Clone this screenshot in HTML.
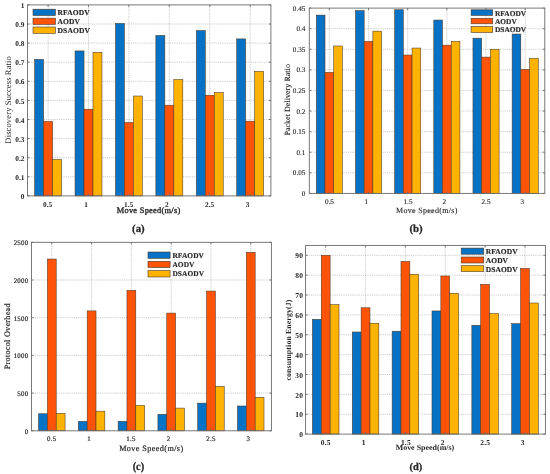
<!DOCTYPE html>
<html><head><meta charset="utf-8"><title>Charts</title>
<style>
html,body{margin:0;padding:0;background:#fff;}
body{width:550px;height:474px;overflow:hidden;}
svg{display:block;font-family:"Liberation Serif", serif;will-change:transform;filter:blur(0.4px);}
text{fill:#262626;text-rendering:geometricPrecision;}
</style></head>
<body>
<svg width="550" height="474" viewBox="0 0 550 474">
<rect x="0" y="0" width="550" height="474" fill="#fff"/>
<g id="pa">
<path d="M48.1 4.9V195.9M88.51 4.9V195.9M128.92 4.9V195.9M169.34 4.9V195.9M209.75 4.9V195.9M250.16 4.9V195.9M27.5 176.8H270.9M27.5 157.7H270.9M27.5 138.6H270.9M27.5 119.5H270.9M27.5 100.4H270.9M27.5 81.3H270.9M27.5 62.2H270.9M27.5 43.1H270.9M27.5 24H270.9" stroke="#a0a0a0" stroke-width="0.6" stroke-dasharray="0.9 0.95" fill="none"/>
<rect x="34.63" y="59.34" width="8.98" height="136.56" fill="#0672C6" stroke="#4a3826" stroke-width="0.55"/>
<rect x="75.04" y="50.93" width="8.98" height="144.97" fill="#0672C6" stroke="#4a3826" stroke-width="0.55"/>
<rect x="115.45" y="23.43" width="8.98" height="172.47" fill="#0672C6" stroke="#4a3826" stroke-width="0.55"/>
<rect x="155.87" y="35.46" width="8.98" height="160.44" fill="#0672C6" stroke="#4a3826" stroke-width="0.55"/>
<rect x="196.28" y="30.49" width="8.98" height="165.41" fill="#0672C6" stroke="#4a3826" stroke-width="0.55"/>
<rect x="236.69" y="38.9" width="8.98" height="157" fill="#0672C6" stroke="#4a3826" stroke-width="0.55"/>
<rect x="43.61" y="121.41" width="8.98" height="74.49" fill="#FF5408" stroke="#4a3826" stroke-width="0.55"/>
<rect x="84.02" y="109.19" width="8.98" height="86.71" fill="#FF5408" stroke="#4a3826" stroke-width="0.55"/>
<rect x="124.43" y="122.56" width="8.98" height="73.34" fill="#FF5408" stroke="#4a3826" stroke-width="0.55"/>
<rect x="164.85" y="105.18" width="8.98" height="90.72" fill="#FF5408" stroke="#4a3826" stroke-width="0.55"/>
<rect x="205.26" y="95.24" width="8.98" height="100.66" fill="#FF5408" stroke="#4a3826" stroke-width="0.55"/>
<rect x="245.67" y="121.22" width="8.98" height="74.68" fill="#FF5408" stroke="#4a3826" stroke-width="0.55"/>
<rect x="52.59" y="159.42" width="8.98" height="36.48" fill="#FFB300" stroke="#4a3826" stroke-width="0.55"/>
<rect x="93" y="52.27" width="8.98" height="143.63" fill="#FFB300" stroke="#4a3826" stroke-width="0.55"/>
<rect x="133.41" y="96.01" width="8.98" height="99.89" fill="#FFB300" stroke="#4a3826" stroke-width="0.55"/>
<rect x="173.83" y="79.58" width="8.98" height="116.32" fill="#FFB300" stroke="#4a3826" stroke-width="0.55"/>
<rect x="214.24" y="92.57" width="8.98" height="103.33" fill="#FFB300" stroke="#4a3826" stroke-width="0.55"/>
<rect x="254.65" y="71.37" width="8.98" height="124.53" fill="#FFB300" stroke="#4a3826" stroke-width="0.55"/>
<rect x="33" y="9.2" width="22.4" height="6.3" fill="#0672C6" stroke="#4a3826" stroke-width="0.6"/>
<text x="57.5" y="15.1" font-size="7.5" font-weight="bold" letter-spacing="0.15" stroke="#262626" stroke-width="0.15">RFAODV</text>
<rect x="33" y="18.2" width="22.4" height="6.2" fill="#FF5408" stroke="#4a3826" stroke-width="0.6"/>
<text x="57.5" y="24" font-size="7.5" font-weight="bold" letter-spacing="0.15" stroke="#262626" stroke-width="0.15">AODV</text>
<rect x="33" y="27" width="22.4" height="6.3" fill="#FFB300" stroke="#4a3826" stroke-width="0.6"/>
<text x="57.5" y="32.8" font-size="7.5" font-weight="bold" letter-spacing="0.15" stroke="#262626" stroke-width="0.15">DSAODV</text>
<rect x="27.5" y="4.9" width="243.4" height="191" fill="none" stroke="#6a6a6a" stroke-width="0.9"/>
<path d="M48.1 195.9v-2M48.1 4.9v2M88.51 195.9v-2M88.51 4.9v2M128.92 195.9v-2M128.92 4.9v2M169.34 195.9v-2M169.34 4.9v2M209.75 195.9v-2M209.75 4.9v2M250.16 195.9v-2M250.16 4.9v2M27.5 195.9h2M270.9 195.9h-2M27.5 176.8h2M270.9 176.8h-2M27.5 157.7h2M270.9 157.7h-2M27.5 138.6h2M270.9 138.6h-2M27.5 119.5h2M270.9 119.5h-2M27.5 100.4h2M270.9 100.4h-2M27.5 81.3h2M270.9 81.3h-2M27.5 62.2h2M270.9 62.2h-2M27.5 43.1h2M270.9 43.1h-2M27.5 24h2M270.9 24h-2M27.5 4.9h2M270.9 4.9h-2" stroke="#6a6a6a" stroke-width="0.9" fill="none"/>
<text x="24.5" y="199" text-anchor="end" font-size="7.4" font-weight="bold">0</text>
<text x="24.5" y="179.9" text-anchor="end" font-size="7.4" font-weight="bold">0.1</text>
<text x="24.5" y="160.8" text-anchor="end" font-size="7.4" font-weight="bold">0.2</text>
<text x="24.5" y="141.7" text-anchor="end" font-size="7.4" font-weight="bold">0.3</text>
<text x="24.5" y="122.6" text-anchor="end" font-size="7.4" font-weight="bold">0.4</text>
<text x="24.5" y="103.5" text-anchor="end" font-size="7.4" font-weight="bold">0.5</text>
<text x="24.5" y="84.4" text-anchor="end" font-size="7.4" font-weight="bold">0.6</text>
<text x="24.5" y="65.3" text-anchor="end" font-size="7.4" font-weight="bold">0.7</text>
<text x="24.5" y="46.2" text-anchor="end" font-size="7.4" font-weight="bold">0.8</text>
<text x="24.5" y="27.1" text-anchor="end" font-size="7.4" font-weight="bold">0.9</text>
<text x="24.5" y="8" text-anchor="end" font-size="7.4" font-weight="bold">1</text>
<text x="47.7" y="206.7" text-anchor="middle" font-size="7.4" font-weight="bold">0.5</text>
<text x="86.2" y="206.7" text-anchor="middle" font-size="7.4" font-weight="bold">1</text>
<text x="128.7" y="206.7" text-anchor="middle" font-size="7.4" font-weight="bold">1.5</text>
<text x="166.8" y="206.7" text-anchor="middle" font-size="7.4" font-weight="bold">2</text>
<text x="209.6" y="206.7" text-anchor="middle" font-size="7.4" font-weight="bold">2.5</text>
<text x="247.6" y="206.7" text-anchor="middle" font-size="7.4" font-weight="bold">3</text>
<text transform="translate(11.4 99.9) rotate(-90)" x="0" y="0" text-anchor="middle" font-size="8.5" font-weight="normal" textLength="87.5" lengthAdjust="spacing">Discovery Success Ratio</text>
<text x="148.5" y="212.5" text-anchor="middle" font-size="8.4" font-weight="normal" textLength="63.5" lengthAdjust="spacing" stroke="#262626" stroke-width="0.35">Move Speed(m/s)</text>
<text x="138.4" y="231.8" text-anchor="middle" font-size="10.8" font-weight="bold" fill="#1a1a1a" stroke="#1a1a1a" stroke-width="0.25">(a)</text>
</g>
<g id="pb">
<path d="M329.35 8.1V193.4M368.52 8.1V193.4M407.69 8.1V193.4M446.86 8.1V193.4M486.03 8.1V193.4M525.2 8.1V193.4M309.3 172.81H544.8M309.3 152.22H544.8M309.3 131.63H544.8M309.3 111.04H544.8M309.3 90.46H544.8M309.3 69.87H544.8M309.3 49.28H544.8M309.3 28.69H544.8" stroke="#a0a0a0" stroke-width="0.6" stroke-dasharray="0.9 0.95" fill="none"/>
<rect x="316.29" y="15.1" width="8.7" height="178.3" fill="#0672C6" stroke="#4a3826" stroke-width="0.55"/>
<rect x="355.46" y="10.57" width="8.7" height="182.83" fill="#0672C6" stroke="#4a3826" stroke-width="0.55"/>
<rect x="394.63" y="9.75" width="8.7" height="183.65" fill="#0672C6" stroke="#4a3826" stroke-width="0.55"/>
<rect x="433.8" y="20.04" width="8.7" height="173.36" fill="#0672C6" stroke="#4a3826" stroke-width="0.55"/>
<rect x="472.97" y="38.16" width="8.7" height="155.24" fill="#0672C6" stroke="#4a3826" stroke-width="0.55"/>
<rect x="512.14" y="34.04" width="8.7" height="159.36" fill="#0672C6" stroke="#4a3826" stroke-width="0.55"/>
<rect x="325" y="72.34" width="8.7" height="121.06" fill="#FF5408" stroke="#4a3826" stroke-width="0.55"/>
<rect x="364.17" y="41.45" width="8.7" height="151.95" fill="#FF5408" stroke="#4a3826" stroke-width="0.55"/>
<rect x="403.34" y="55.04" width="8.7" height="138.36" fill="#FF5408" stroke="#4a3826" stroke-width="0.55"/>
<rect x="442.51" y="45.16" width="8.7" height="148.24" fill="#FF5408" stroke="#4a3826" stroke-width="0.55"/>
<rect x="481.68" y="57.1" width="8.7" height="136.3" fill="#FF5408" stroke="#4a3826" stroke-width="0.55"/>
<rect x="520.85" y="69.45" width="8.7" height="123.95" fill="#FF5408" stroke="#4a3826" stroke-width="0.55"/>
<rect x="333.7" y="45.98" width="8.7" height="147.42" fill="#FFB300" stroke="#4a3826" stroke-width="0.55"/>
<rect x="372.87" y="31.16" width="8.7" height="162.24" fill="#FFB300" stroke="#4a3826" stroke-width="0.55"/>
<rect x="412.04" y="48.04" width="8.7" height="145.36" fill="#FFB300" stroke="#4a3826" stroke-width="0.55"/>
<rect x="451.21" y="41.45" width="8.7" height="151.95" fill="#FFB300" stroke="#4a3826" stroke-width="0.55"/>
<rect x="490.38" y="49.28" width="8.7" height="144.12" fill="#FFB300" stroke="#4a3826" stroke-width="0.55"/>
<rect x="529.55" y="58.34" width="8.7" height="135.06" fill="#FFB300" stroke="#4a3826" stroke-width="0.55"/>
<rect x="471.1" y="9.8" width="21.6" height="5.6" fill="#0672C6" stroke="#4a3826" stroke-width="0.6"/>
<text x="495" y="15.9" font-size="7.4" font-weight="bold" letter-spacing="0" stroke="#262626" stroke-width="0.15">RFAODV</text>
<rect x="471.1" y="18.4" width="21.6" height="5.4" fill="#FF5408" stroke="#4a3826" stroke-width="0.6"/>
<text x="495" y="23.7" font-size="7.4" font-weight="bold" letter-spacing="0" stroke="#262626" stroke-width="0.15">AODV</text>
<rect x="471.1" y="26.6" width="21.6" height="5.8" fill="#FFB300" stroke="#4a3826" stroke-width="0.6"/>
<text x="495" y="31.9" font-size="7.4" font-weight="bold" letter-spacing="0" stroke="#262626" stroke-width="0.15">DSAODV</text>
<rect x="309.3" y="8.1" width="235.5" height="185.3" fill="none" stroke="#6a6a6a" stroke-width="0.9"/>
<path d="M329.35 193.4v-2M329.35 8.1v2M368.52 193.4v-2M368.52 8.1v2M407.69 193.4v-2M407.69 8.1v2M446.86 193.4v-2M446.86 8.1v2M486.03 193.4v-2M486.03 8.1v2M525.2 193.4v-2M525.2 8.1v2M309.3 193.4h2M544.8 193.4h-2M309.3 172.81h2M544.8 172.81h-2M309.3 152.22h2M544.8 152.22h-2M309.3 131.63h2M544.8 131.63h-2M309.3 111.04h2M544.8 111.04h-2M309.3 90.46h2M544.8 90.46h-2M309.3 69.87h2M544.8 69.87h-2M309.3 49.28h2M544.8 49.28h-2M309.3 28.69h2M544.8 28.69h-2M309.3 8.1h2M544.8 8.1h-2" stroke="#6a6a6a" stroke-width="0.9" fill="none"/>
<text x="305.4" y="195.93" text-anchor="end" font-size="7.2" font-weight="normal" stroke="#262626" stroke-width="0.12">0</text>
<text x="305.4" y="175.34" text-anchor="end" font-size="7.2" font-weight="normal" stroke="#262626" stroke-width="0.12">0.05</text>
<text x="305.4" y="154.75" text-anchor="end" font-size="7.2" font-weight="normal" stroke="#262626" stroke-width="0.12">0.1</text>
<text x="305.4" y="134.16" text-anchor="end" font-size="7.2" font-weight="normal" stroke="#262626" stroke-width="0.12">0.15</text>
<text x="305.4" y="113.57" text-anchor="end" font-size="7.2" font-weight="normal" stroke="#262626" stroke-width="0.12">0.2</text>
<text x="305.4" y="92.99" text-anchor="end" font-size="7.2" font-weight="normal" stroke="#262626" stroke-width="0.12">0.25</text>
<text x="305.4" y="72.4" text-anchor="end" font-size="7.2" font-weight="normal" stroke="#262626" stroke-width="0.12">0.3</text>
<text x="305.4" y="51.81" text-anchor="end" font-size="7.2" font-weight="normal" stroke="#262626" stroke-width="0.12">0.35</text>
<text x="305.4" y="31.22" text-anchor="end" font-size="7.2" font-weight="normal" stroke="#262626" stroke-width="0.12">0.4</text>
<text x="305.4" y="10.63" text-anchor="end" font-size="7.2" font-weight="normal" stroke="#262626" stroke-width="0.12">0.45</text>
<text x="329.4" y="203.9" text-anchor="middle" font-size="7.2" font-weight="normal" stroke="#262626" stroke-width="0.12">0.5</text>
<text x="366.25" y="203.9" text-anchor="middle" font-size="7.2" font-weight="normal" stroke="#262626" stroke-width="0.12">1</text>
<text x="408" y="203.9" text-anchor="middle" font-size="7.2" font-weight="normal" stroke="#262626" stroke-width="0.12">1.5</text>
<text x="444.4" y="203.9" text-anchor="middle" font-size="7.2" font-weight="normal" stroke="#262626" stroke-width="0.12">2</text>
<text x="486" y="203.9" text-anchor="middle" font-size="7.2" font-weight="normal" stroke="#262626" stroke-width="0.12">2.5</text>
<text x="522.4" y="203.9" text-anchor="middle" font-size="7.2" font-weight="normal" stroke="#262626" stroke-width="0.12">3</text>
<text transform="translate(290.4 99.85) rotate(-90)" x="0" y="0" text-anchor="middle" font-size="8.0" font-weight="normal" textLength="71.5" lengthAdjust="spacing" stroke="#262626" stroke-width="0.12">Packet Delivery Ratio</text>
<text x="426.7" y="213.1" text-anchor="middle" font-size="8.0" font-weight="normal" textLength="61.5" lengthAdjust="spacing" stroke="#262626" stroke-width="0.12">Move Speed(m/s)</text>
<text x="416.1" y="231.6" text-anchor="middle" font-size="10.8" font-weight="bold" fill="#1a1a1a" stroke="#1a1a1a" stroke-width="0.25">(b)</text>
</g>
<g id="pc">
<path d="M51.8 242.3V430.8M91.59 242.3V430.8M131.38 242.3V430.8M171.17 242.3V430.8M210.96 242.3V430.8M250.75 242.3V430.8M31.5 393.1H271.4M31.5 355.4H271.4M31.5 317.7H271.4M31.5 280H271.4" stroke="#a0a0a0" stroke-width="0.6" stroke-dasharray="0.9 0.95" fill="none"/>
<rect x="38.54" y="413.76" width="8.84" height="17.04" fill="#0672C6" stroke="#4a3826" stroke-width="0.55"/>
<rect x="78.33" y="421.3" width="8.84" height="9.5" fill="#0672C6" stroke="#4a3826" stroke-width="0.55"/>
<rect x="118.12" y="421.3" width="8.84" height="9.5" fill="#0672C6" stroke="#4a3826" stroke-width="0.55"/>
<rect x="157.91" y="414.29" width="8.84" height="16.51" fill="#0672C6" stroke="#4a3826" stroke-width="0.55"/>
<rect x="197.7" y="403.13" width="8.84" height="27.67" fill="#0672C6" stroke="#4a3826" stroke-width="0.55"/>
<rect x="237.49" y="405.99" width="8.84" height="24.81" fill="#0672C6" stroke="#4a3826" stroke-width="0.55"/>
<rect x="47.38" y="259.04" width="8.84" height="171.76" fill="#FF5408" stroke="#4a3826" stroke-width="0.55"/>
<rect x="87.17" y="310.91" width="8.84" height="119.89" fill="#FF5408" stroke="#4a3826" stroke-width="0.55"/>
<rect x="126.96" y="290.41" width="8.84" height="140.39" fill="#FF5408" stroke="#4a3826" stroke-width="0.55"/>
<rect x="166.75" y="313.1" width="8.84" height="117.7" fill="#FF5408" stroke="#4a3826" stroke-width="0.55"/>
<rect x="206.54" y="291.08" width="8.84" height="139.72" fill="#FF5408" stroke="#4a3826" stroke-width="0.55"/>
<rect x="246.33" y="252.33" width="8.84" height="178.47" fill="#FF5408" stroke="#4a3826" stroke-width="0.55"/>
<rect x="56.22" y="413.38" width="8.84" height="17.42" fill="#FFB300" stroke="#4a3826" stroke-width="0.55"/>
<rect x="96.01" y="411.2" width="8.84" height="19.6" fill="#FFB300" stroke="#4a3826" stroke-width="0.55"/>
<rect x="135.8" y="405.39" width="8.84" height="25.41" fill="#FFB300" stroke="#4a3826" stroke-width="0.55"/>
<rect x="175.59" y="408.1" width="8.84" height="22.7" fill="#FFB300" stroke="#4a3826" stroke-width="0.55"/>
<rect x="215.38" y="386.31" width="8.84" height="44.49" fill="#FFB300" stroke="#4a3826" stroke-width="0.55"/>
<rect x="255.17" y="397.32" width="8.84" height="33.48" fill="#FFB300" stroke="#4a3826" stroke-width="0.55"/>
<rect x="146.5" y="250.3" width="59.5" height="28.7" fill="#fff"/>
<rect x="148" y="252" width="22.1" height="6.3" fill="#0672C6" stroke="#4a3826" stroke-width="0.6"/>
<text x="172.4" y="257.8" font-size="7.4" font-weight="bold" letter-spacing="0.1" stroke="#262626" stroke-width="0.15">RFAODV</text>
<rect x="148" y="261.3" width="22.1" height="6.2" fill="#FF5408" stroke="#4a3826" stroke-width="0.6"/>
<text x="172.4" y="267.1" font-size="7.4" font-weight="bold" letter-spacing="0.1" stroke="#262626" stroke-width="0.15">AODV</text>
<rect x="148" y="270.6" width="22.1" height="6.4" fill="#FFB300" stroke="#4a3826" stroke-width="0.6"/>
<text x="172.4" y="276.2" font-size="7.4" font-weight="bold" letter-spacing="0.1" stroke="#262626" stroke-width="0.15">DSAODV</text>
<rect x="31.5" y="242.3" width="239.9" height="188.5" fill="none" stroke="#6a6a6a" stroke-width="0.9"/>
<path d="M51.8 430.8v-2M51.8 242.3v2M91.59 430.8v-2M91.59 242.3v2M131.38 430.8v-2M131.38 242.3v2M171.17 430.8v-2M171.17 242.3v2M210.96 430.8v-2M210.96 242.3v2M250.75 430.8v-2M250.75 242.3v2M31.5 430.8h2M271.4 430.8h-2M31.5 393.1h2M271.4 393.1h-2M31.5 355.4h2M271.4 355.4h-2M31.5 317.7h2M271.4 317.7h-2M31.5 280h2M271.4 280h-2M31.5 242.3h2M271.4 242.3h-2" stroke="#6a6a6a" stroke-width="0.9" fill="none"/>
<text x="28.45" y="433.73" text-anchor="end" font-size="6.9" font-weight="normal" stroke="#262626" stroke-width="0.2" letter-spacing="0.25">0</text>
<text x="28.45" y="396.03" text-anchor="end" font-size="6.9" font-weight="normal" stroke="#262626" stroke-width="0.2" letter-spacing="0.25">500</text>
<text x="28.45" y="358.33" text-anchor="end" font-size="6.9" font-weight="normal" stroke="#262626" stroke-width="0.2" letter-spacing="0.25">1000</text>
<text x="28.45" y="320.63" text-anchor="end" font-size="6.9" font-weight="normal" stroke="#262626" stroke-width="0.2" letter-spacing="0.25">1500</text>
<text x="28.45" y="282.93" text-anchor="end" font-size="6.9" font-weight="normal" stroke="#262626" stroke-width="0.2" letter-spacing="0.25">2000</text>
<text x="28.45" y="245.23" text-anchor="end" font-size="6.9" font-weight="normal" stroke="#262626" stroke-width="0.2" letter-spacing="0.25">2500</text>
<text x="51.73" y="441.1" text-anchor="middle" font-size="6.9" font-weight="normal" stroke="#262626" stroke-width="0.2" letter-spacing="0.25">0.5</text>
<text x="89.12" y="441.1" text-anchor="middle" font-size="6.9" font-weight="normal" stroke="#262626" stroke-width="0.2" letter-spacing="0.25">1</text>
<text x="131.03" y="441.1" text-anchor="middle" font-size="6.9" font-weight="normal" stroke="#262626" stroke-width="0.2" letter-spacing="0.25">1.5</text>
<text x="168.62" y="441.1" text-anchor="middle" font-size="6.9" font-weight="normal" stroke="#262626" stroke-width="0.2" letter-spacing="0.25">2</text>
<text x="210.93" y="441.1" text-anchor="middle" font-size="6.9" font-weight="normal" stroke="#262626" stroke-width="0.2" letter-spacing="0.25">2.5</text>
<text x="248.32" y="441.1" text-anchor="middle" font-size="6.9" font-weight="normal" stroke="#262626" stroke-width="0.2" letter-spacing="0.25">3</text>
<text transform="translate(9.9 336.3) rotate(-90)" x="0" y="0" text-anchor="middle" font-size="8.2" font-weight="normal" textLength="65.8" lengthAdjust="spacing" stroke="#262626" stroke-width="0.2">Protocol Overhead</text>
<text x="151.15" y="451" text-anchor="middle" font-size="8.2" font-weight="normal" textLength="64" lengthAdjust="spacing" stroke="#262626" stroke-width="0.2">Move Speed(m/s)</text>
<text x="138.45" y="470.3" text-anchor="middle" font-size="11.3" font-weight="bold" fill="#1a1a1a" stroke="#1a1a1a" stroke-width="0.25" textLength="11.6" lengthAdjust="spacingAndGlyphs">(c)</text>
</g>
<g id="pd">
<path d="M325.7 245.4V434.1M365.56 245.4V434.1M405.42 245.4V434.1M445.28 245.4V434.1M485.14 245.4V434.1M525 245.4V434.1M305.6 414.24H545.4M305.6 394.37H545.4M305.6 374.51H545.4M305.6 354.65H545.4M305.6 334.78H545.4M305.6 314.92H545.4M305.6 295.06H545.4M305.6 275.19H545.4M305.6 255.33H545.4" stroke="#a0a0a0" stroke-width="0.6" stroke-dasharray="0.9 0.95" fill="none"/>
<rect x="312.41" y="319.29" width="8.86" height="114.81" fill="#0672C6" stroke="#4a3826" stroke-width="0.55"/>
<rect x="352.27" y="332" width="8.86" height="102.1" fill="#0672C6" stroke="#4a3826" stroke-width="0.55"/>
<rect x="392.13" y="331.21" width="8.86" height="102.89" fill="#0672C6" stroke="#4a3826" stroke-width="0.55"/>
<rect x="431.99" y="310.95" width="8.86" height="123.15" fill="#0672C6" stroke="#4a3826" stroke-width="0.55"/>
<rect x="471.85" y="325.25" width="8.86" height="108.85" fill="#0672C6" stroke="#4a3826" stroke-width="0.55"/>
<rect x="511.71" y="323.66" width="8.86" height="110.44" fill="#0672C6" stroke="#4a3826" stroke-width="0.55"/>
<rect x="321.27" y="255.33" width="8.86" height="178.77" fill="#FF5408" stroke="#4a3826" stroke-width="0.55"/>
<rect x="361.13" y="307.77" width="8.86" height="126.33" fill="#FF5408" stroke="#4a3826" stroke-width="0.55"/>
<rect x="400.99" y="261.49" width="8.86" height="172.61" fill="#FF5408" stroke="#4a3826" stroke-width="0.55"/>
<rect x="440.85" y="275.99" width="8.86" height="158.11" fill="#FF5408" stroke="#4a3826" stroke-width="0.55"/>
<rect x="480.71" y="284.33" width="8.86" height="149.77" fill="#FF5408" stroke="#4a3826" stroke-width="0.55"/>
<rect x="520.57" y="268.44" width="8.86" height="165.66" fill="#FF5408" stroke="#4a3826" stroke-width="0.55"/>
<rect x="330.13" y="304.59" width="8.86" height="129.51" fill="#FFB300" stroke="#4a3826" stroke-width="0.55"/>
<rect x="369.99" y="323.26" width="8.86" height="110.84" fill="#FFB300" stroke="#4a3826" stroke-width="0.55"/>
<rect x="409.85" y="274.4" width="8.86" height="159.7" fill="#FFB300" stroke="#4a3826" stroke-width="0.55"/>
<rect x="449.71" y="293.27" width="8.86" height="140.83" fill="#FFB300" stroke="#4a3826" stroke-width="0.55"/>
<rect x="489.57" y="313.53" width="8.86" height="120.57" fill="#FFB300" stroke="#4a3826" stroke-width="0.55"/>
<rect x="529.43" y="303" width="8.86" height="131.1" fill="#FFB300" stroke="#4a3826" stroke-width="0.55"/>
<rect x="461.2" y="248.1" width="22.5" height="6.1" fill="#0672C6" stroke="#4a3826" stroke-width="0.6"/>
<text x="485.8" y="253.85" font-size="7.5" font-weight="bold" letter-spacing="0.05" stroke="#262626" stroke-width="0.15">RFAODV</text>
<rect x="461.2" y="257" width="22.5" height="6" fill="#FF5408" stroke="#4a3826" stroke-width="0.6"/>
<text x="485.8" y="262.65" font-size="7.5" font-weight="bold" letter-spacing="0.05" stroke="#262626" stroke-width="0.15">AODV</text>
<rect x="461.2" y="265.7" width="22.5" height="5.9" fill="#FFB300" stroke="#4a3826" stroke-width="0.6"/>
<text x="485.8" y="271.55" font-size="7.5" font-weight="bold" letter-spacing="0.05" stroke="#262626" stroke-width="0.15">DSAODV</text>
<rect x="305.6" y="245.4" width="239.8" height="188.7" fill="none" stroke="#6a6a6a" stroke-width="0.9"/>
<path d="M325.7 434.1v-2M325.7 245.4v2M365.56 434.1v-2M365.56 245.4v2M405.42 434.1v-2M405.42 245.4v2M445.28 434.1v-2M445.28 245.4v2M485.14 434.1v-2M485.14 245.4v2M525 434.1v-2M525 245.4v2M305.6 434.1h2M545.4 434.1h-2M305.6 414.24h2M545.4 414.24h-2M305.6 394.37h2M545.4 394.37h-2M305.6 374.51h2M545.4 374.51h-2M305.6 354.65h2M545.4 354.65h-2M305.6 334.78h2M545.4 334.78h-2M305.6 314.92h2M545.4 314.92h-2M305.6 295.06h2M545.4 295.06h-2M305.6 275.19h2M545.4 275.19h-2M305.6 255.33h2M545.4 255.33h-2" stroke="#6a6a6a" stroke-width="0.9" fill="none"/>
<text x="303.05" y="437.23" text-anchor="end" font-size="7.5" font-weight="bold" letter-spacing="0.15">0</text>
<text x="303.05" y="417.37" text-anchor="end" font-size="7.5" font-weight="bold" letter-spacing="0.15">10</text>
<text x="303.05" y="397.5" text-anchor="end" font-size="7.5" font-weight="bold" letter-spacing="0.15">20</text>
<text x="303.05" y="377.64" text-anchor="end" font-size="7.5" font-weight="bold" letter-spacing="0.15">30</text>
<text x="303.05" y="357.78" text-anchor="end" font-size="7.5" font-weight="bold" letter-spacing="0.15">40</text>
<text x="303.05" y="337.92" text-anchor="end" font-size="7.5" font-weight="bold" letter-spacing="0.15">50</text>
<text x="303.05" y="318.05" text-anchor="end" font-size="7.5" font-weight="bold" letter-spacing="0.15">60</text>
<text x="303.05" y="298.19" text-anchor="end" font-size="7.5" font-weight="bold" letter-spacing="0.15">70</text>
<text x="303.05" y="278.33" text-anchor="end" font-size="7.5" font-weight="bold" letter-spacing="0.15">80</text>
<text x="303.05" y="258.46" text-anchor="end" font-size="7.5" font-weight="bold" letter-spacing="0.15">90</text>
<text x="325.77" y="444.7" text-anchor="middle" font-size="7.5" font-weight="bold" letter-spacing="0.15">0.5</text>
<text x="363.77" y="444.7" text-anchor="middle" font-size="7.5" font-weight="bold" letter-spacing="0.15">1</text>
<text x="405.88" y="444.7" text-anchor="middle" font-size="7.5" font-weight="bold" letter-spacing="0.15">1.5</text>
<text x="442.77" y="444.7" text-anchor="middle" font-size="7.5" font-weight="bold" letter-spacing="0.15">2</text>
<text x="485.18" y="444.7" text-anchor="middle" font-size="7.5" font-weight="bold" letter-spacing="0.15">2.5</text>
<text x="522.68" y="444.7" text-anchor="middle" font-size="7.5" font-weight="bold" letter-spacing="0.15">3</text>
<text transform="translate(291.2 340.05) rotate(-90)" x="0" y="0" text-anchor="middle" font-size="7.8" font-weight="bold" textLength="81" lengthAdjust="spacing">consumption Energy(J)</text>
<text x="424.95" y="450.1" text-anchor="middle" font-size="7.9" font-weight="bold" textLength="58.5" lengthAdjust="spacing">Move Speed(m/s)</text>
<text x="415.9" y="470.1" text-anchor="middle" font-size="10.4" font-weight="bold" fill="#1a1a1a" stroke="#1a1a1a" stroke-width="0.25">(d)</text>
</g>
</svg>
</body></html>
